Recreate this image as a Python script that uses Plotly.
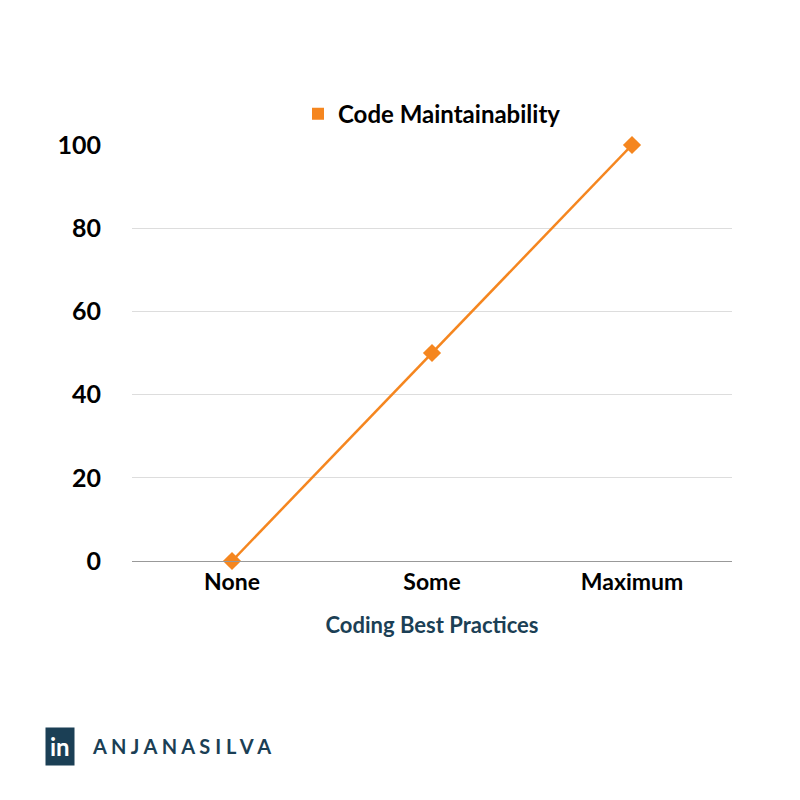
import plotly.graph_objects as go

categories = ['None', 'Some', 'Maximum']
maintainability = [0, 50, 100]
y_ticks = [0, 20, 40, 60, 80, 100]

orange = '#F5861F'
teal = '#1B3F55'

fig = go.Figure()
fig.add_trace(go.Scatter(x=categories, y=maintainability, mode='lines+markers',
                         line=dict(color=orange, width=2.5),
                         marker=dict(symbol='diamond', size=14, color=orange),
                         showlegend=False, cliponaxis=False))
# legend entry with square swatch
fig.add_trace(go.Scatter(x=[None], y=[None], mode='markers', name='Code Maintainability',
                         marker=dict(symbol='square', size=26, color=orange)))

fig.update_layout(
    width=800, height=800,
    paper_bgcolor='white', plot_bgcolor='white',
    margin=dict(l=124, r=76, t=137, b=247),
    font=dict(family='Lato', color='black'),
    legend=dict(orientation='h', x=0.5, xanchor='center', y=1.02, yanchor='bottom',
                font=dict(size=24, weight='bold', color='black'), itemsizing='constant',
                itemwidth=30),
    xaxis=dict(range=[-0.5, 2.5], showgrid=False, showline=True, linecolor='#999999',
               ticks='', tickfont=dict(size=23, weight='bold', color='black'),
               title=dict(text='Coding Best Practices', standoff=24,
                          font=dict(size=22, weight='bold', color=teal))),
    yaxis=dict(range=[0, 100], tickvals=y_ticks, showgrid=True, gridcolor='#dddddd',
               zeroline=False, ticks='', ticklabelstandoff=30,
               tickfont=dict(size=25, weight='bold', color='black')),
)

fig.add_annotation(xref='paper', yref='paper', x=-0.145, y=-0.445, xanchor='left', yanchor='middle',
                   text='<b>in</b>', showarrow=False, bgcolor=teal, borderpad=4,
                   font=dict(size=24, color='white', family='Lato'))
fig.add_annotation(xref='paper', yref='paper', x=-0.07, y=-0.445, xanchor='left', yanchor='middle',
                   text='<b>A N J A N A S I L V A</b>', showarrow=False,
                   font=dict(size=20, color=teal, family='Lato'))

fig.write_html("out.html")
